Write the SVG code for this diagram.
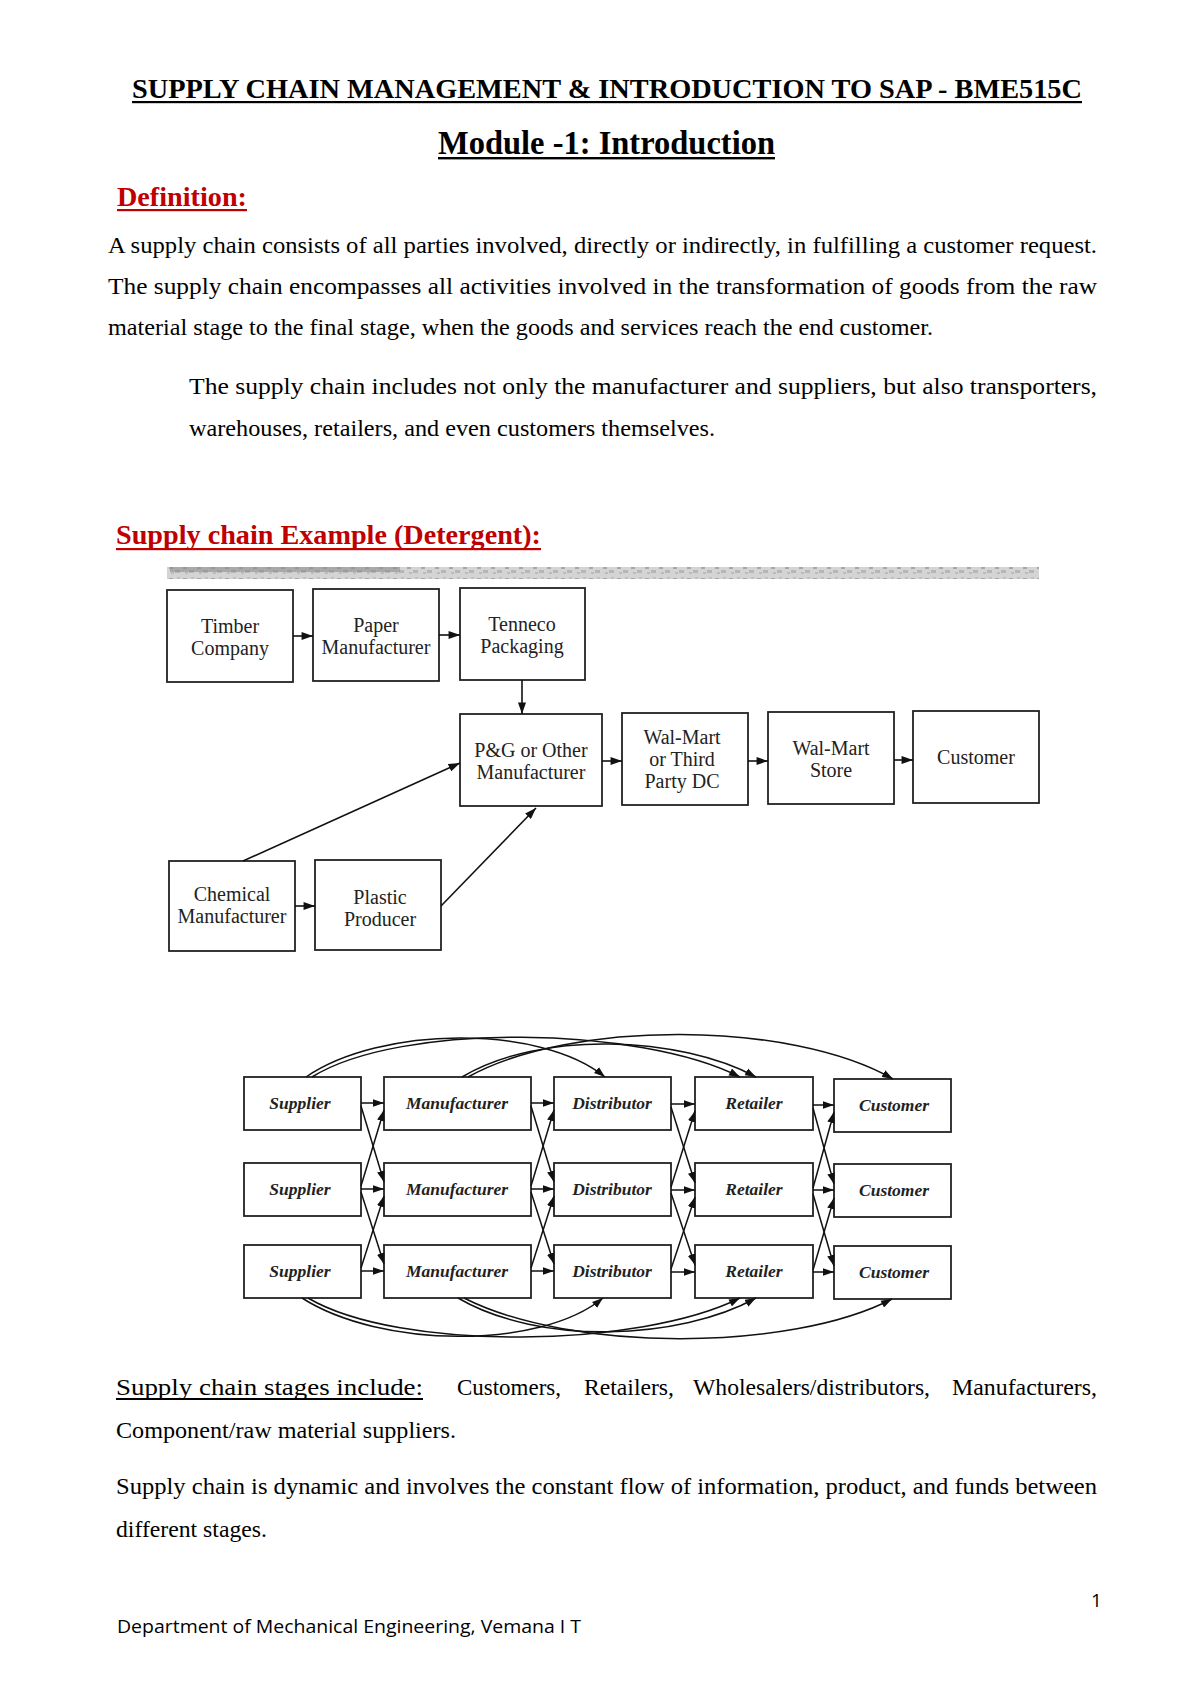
<svg xmlns="http://www.w3.org/2000/svg" width="1200" height="1696" viewBox="0 0 1200 1696">
<defs>
<marker id="ah" viewBox="0 0 10 7" refX="10" refY="3.5" markerWidth="12" markerHeight="8" markerUnits="userSpaceOnUse" orient="auto">
<path d="M0,0 L10,3.5 L0,7 z" fill="#111"/>
</marker>
<marker id="ah2" viewBox="0 0 10 7" refX="10" refY="3.5" markerWidth="11" markerHeight="8" markerUnits="userSpaceOnUse" orient="auto">
<path d="M0,0 L10,3.5 L0,7 z" fill="#111"/>
</marker>
<pattern id="noise" width="14" height="12" patternUnits="userSpaceOnUse">
<rect width="14" height="12" fill="#d4d4d4"/>
<rect x="1" y="2" width="4" height="3" fill="#a8a8a8"/>
<rect x="7" y="6" width="5" height="3" fill="#b6b6b6"/>
<rect x="9" y="1" width="3" height="2" fill="#c0c0c0"/>
<rect x="3" y="8" width="3" height="2" fill="#bcbcbc"/>
</pattern>
</defs>
<style>
.h{font-family:"Liberation Serif","Times New Roman",serif;font-weight:bold;fill:#000;}
.red{fill:#c00000;}
.body{font-family:"Liberation Serif","Times New Roman",serif;font-size:24px;fill:#000;}
.box{fill:#fff;stroke:#222;stroke-width:1.8;}
.lbl{font-family:"Liberation Serif","Times New Roman",serif;font-size:20px;fill:#222;text-anchor:middle;}
.lbl2{font-family:"Liberation Serif","Times New Roman",serif;font-size:17.5px;font-weight:bold;font-style:italic;fill:#222;text-anchor:middle;}
.con{fill:none;stroke:#111;stroke-width:1.6;marker-end:url(#ah);}
.con2{fill:none;stroke:#111;stroke-width:1.5;marker-end:url(#ah2);}
.foot{font-family:"Open Sans","Liberation Sans",sans-serif;font-size:19px;fill:#000;}
</style>
<rect width="1200" height="1696" fill="#fff"/>

<!-- Headings -->
<text class="h" x="132" y="98" font-size="27" textLength="950" lengthAdjust="spacingAndGlyphs">SUPPLY CHAIN MANAGEMENT &amp; INTRODUCTION TO SAP - BME515C</text>
<rect x="132" y="101" width="950" height="2.2" fill="#000"/>
<text class="h" x="438" y="154" font-size="33" textLength="337" lengthAdjust="spacingAndGlyphs">Module -1: Introduction</text>
<rect x="438" y="157" width="337" height="2.4" fill="#000"/>
<text class="h red" x="117" y="206" font-size="27" textLength="130" lengthAdjust="spacingAndGlyphs">Definition:</text>
<rect x="117" y="209" width="130" height="2.2" fill="#c00000"/>

<!-- Definition paragraph -->
<text class="body" x="108" y="253" textLength="989" lengthAdjust="spacingAndGlyphs">A supply chain consists of all parties involved, directly or indirectly, in fulfilling a customer request.</text>
<text class="body" x="108" y="294" textLength="989" lengthAdjust="spacingAndGlyphs">The supply chain encompasses all activities involved in the transformation of goods from the raw</text>
<text class="body" x="108" y="335" textLength="825" lengthAdjust="spacingAndGlyphs">material stage to the final stage, when the goods and services reach the end customer.</text>
<text class="body" x="189" y="394" textLength="908" lengthAdjust="spacingAndGlyphs">The supply chain includes not only the manufacturer and suppliers, but also transporters,</text>
<text class="body" x="189" y="436" textLength="526" lengthAdjust="spacingAndGlyphs">warehouses, retailers, and even customers themselves.</text>

<text class="h red" x="116" y="544" font-size="27" textLength="425" lengthAdjust="spacingAndGlyphs">Supply chain Example (Detergent):</text>
<rect x="116" y="548" width="425" height="2.2" fill="#c00000"/>

<!-- scanned caption remnant -->
<rect x="167" y="567" width="872" height="12" fill="url(#noise)"/>
<rect x="170" y="567" width="230" height="5" fill="#8c8c8c" opacity="0.6"/>

<!-- Figure 1 nodes -->
<g id="timber"><rect class="box" x="167" y="590" width="126" height="92"/><text class="lbl" x="230" y="633">Timber</text><text class="lbl" x="230" y="655">Company</text></g>
<g id="paper"><rect class="box" x="313" y="589" width="126" height="92"/><text class="lbl" x="376" y="632">Paper</text><text class="lbl" x="376" y="654">Manufacturer</text></g>
<g id="tenneco"><rect class="box" x="460" y="588" width="125" height="92"/><text class="lbl" x="522" y="631">Tenneco</text><text class="lbl" x="522" y="653">Packaging</text></g>
<g id="pg"><rect class="box" x="460" y="714" width="142" height="92"/><text class="lbl" x="531" y="757">P&amp;G or Other</text><text class="lbl" x="531" y="779">Manufacturer</text></g>
<g id="dc"><rect class="box" x="622" y="713" width="126" height="92"/><text class="lbl" x="682" y="744">Wal-Mart</text><text class="lbl" x="682" y="766">or Third</text><text class="lbl" x="682" y="788">Party DC</text></g>
<g id="store"><rect class="box" x="768" y="712" width="126" height="92"/><text class="lbl" x="831" y="755">Wal-Mart</text><text class="lbl" x="831" y="777">Store</text></g>
<g id="customer"><rect class="box" x="913" y="711" width="126" height="92"/><text class="lbl" x="976" y="764">Customer</text></g>
<g id="chemical"><rect class="box" x="169" y="861" width="126" height="90"/><text class="lbl" x="232" y="901">Chemical</text><text class="lbl" x="232" y="923">Manufacturer</text></g>
<g id="plastic"><rect class="box" x="315" y="860" width="126" height="90"/><text class="lbl" x="380" y="904">Plastic</text><text class="lbl" x="380" y="926">Producer</text></g>

<!-- Figure 1 connectors -->
<g id="fig1-connectors">
<line class="con" x1="293" y1="636" x2="313" y2="636"/>
<line class="con" x1="439" y1="635" x2="460" y2="635"/>
<line class="con" x1="522" y1="680" x2="522" y2="714"/>
<line class="con" x1="602" y1="761" x2="622" y2="761"/>
<line class="con" x1="748" y1="761" x2="768" y2="761"/>
<line class="con" x1="894" y1="760" x2="913" y2="760"/>
<line class="con" x1="295" y1="906" x2="315" y2="906"/>
<line class="con" x1="243" y1="861" x2="460" y2="763"/>
<line class="con" x1="441" y1="906" x2="536" y2="808"/>
</g>

<!-- Figure 2 nodes -->
<g id="sup1"><rect class="box" x="244" y="1077" width="117" height="53"/><text class="lbl2" x="300" y="1109">Supplier</text></g>
<g id="sup2"><rect class="box" x="244" y="1163" width="117" height="53"/><text class="lbl2" x="300" y="1195">Supplier</text></g>
<g id="sup3"><rect class="box" x="244" y="1245" width="117" height="53"/><text class="lbl2" x="300" y="1277">Supplier</text></g>
<g id="man1"><rect class="box" x="384" y="1077" width="147" height="53"/><text class="lbl2" x="457" y="1109">Manufacturer</text></g>
<g id="man2"><rect class="box" x="384" y="1163" width="147" height="53"/><text class="lbl2" x="457" y="1195">Manufacturer</text></g>
<g id="man3"><rect class="box" x="384" y="1245" width="147" height="53"/><text class="lbl2" x="457" y="1277">Manufacturer</text></g>
<g id="dis1"><rect class="box" x="554" y="1077" width="117" height="53"/><text class="lbl2" x="612" y="1109">Distributor</text></g>
<g id="dis2"><rect class="box" x="554" y="1163" width="117" height="53"/><text class="lbl2" x="612" y="1195">Distributor</text></g>
<g id="dis3"><rect class="box" x="554" y="1245" width="117" height="53"/><text class="lbl2" x="612" y="1277">Distributor</text></g>
<g id="ret1"><rect class="box" x="695" y="1077" width="118" height="53"/><text class="lbl2" x="754" y="1109">Retailer</text></g>
<g id="ret2"><rect class="box" x="695" y="1163" width="118" height="53"/><text class="lbl2" x="754" y="1195">Retailer</text></g>
<g id="ret3"><rect class="box" x="695" y="1245" width="118" height="53"/><text class="lbl2" x="754" y="1277">Retailer</text></g>
<g id="cus1"><rect class="box" x="834" y="1079" width="117" height="53"/><text class="lbl2" x="894" y="1111">Customer</text></g>
<g id="cus2"><rect class="box" x="834" y="1164" width="117" height="53"/><text class="lbl2" x="894" y="1196">Customer</text></g>
<g id="cus3"><rect class="box" x="834" y="1246" width="117" height="53"/><text class="lbl2" x="894" y="1278">Customer</text></g>

<!-- Figure 2 connectors -->
<g id="fig2-connectors">
<line class="con2" x1="361" y1="1103" x2="384" y2="1103"/>
<line class="con2" x1="361" y1="1189" x2="384" y2="1189"/>
<line class="con2" x1="361" y1="1271" x2="384" y2="1271"/>
<line class="con2" x1="361" y1="1106" x2="384" y2="1182"/>
<line class="con2" x1="361" y1="1186" x2="384" y2="1110"/>
<line class="con2" x1="361" y1="1192" x2="384" y2="1264"/>
<line class="con2" x1="361" y1="1268" x2="384" y2="1196"/>
<line class="con2" x1="531" y1="1103" x2="554" y2="1103"/>
<line class="con2" x1="531" y1="1189" x2="554" y2="1189"/>
<line class="con2" x1="531" y1="1271" x2="554" y2="1271"/>
<line class="con2" x1="531" y1="1106" x2="554" y2="1182"/>
<line class="con2" x1="531" y1="1186" x2="554" y2="1110"/>
<line class="con2" x1="531" y1="1192" x2="554" y2="1264"/>
<line class="con2" x1="531" y1="1268" x2="554" y2="1196"/>
<line class="con2" x1="671" y1="1104" x2="695" y2="1104"/>
<line class="con2" x1="671" y1="1190" x2="695" y2="1190"/>
<line class="con2" x1="671" y1="1272" x2="695" y2="1272"/>
<line class="con2" x1="671" y1="1107" x2="695" y2="1183"/>
<line class="con2" x1="671" y1="1187" x2="695" y2="1111"/>
<line class="con2" x1="671" y1="1193" x2="695" y2="1265"/>
<line class="con2" x1="671" y1="1269" x2="695" y2="1197"/>
<line class="con2" x1="813" y1="1105" x2="834" y2="1105"/>
<line class="con2" x1="813" y1="1190" x2="834" y2="1190"/>
<line class="con2" x1="813" y1="1272" x2="834" y2="1272"/>
<line class="con2" x1="813" y1="1108" x2="834" y2="1184"/>
<line class="con2" x1="813" y1="1188" x2="834" y2="1112"/>
<line class="con2" x1="813" y1="1194" x2="834" y2="1266"/>
<line class="con2" x1="813" y1="1270" x2="834" y2="1198"/>
<path class="con2" d="M306,1077 C380,1026 540,1024 605,1077"/>
<path class="con2" d="M312,1077 C400,1022 640,1026 740,1077"/>
<path class="con2" d="M462,1077 C540,1030 680,1036 756,1077"/>
<path class="con2" d="M468,1077 C570,1020 790,1020 893,1079"/>
<path class="con2" d="M302,1298 C380,1348 540,1350 603,1298"/>
<path class="con2" d="M308,1298 C400,1352 640,1348 740,1298"/>
<path class="con2" d="M458,1298 C540,1346 680,1340 756,1298"/>
<path class="con2" d="M464,1298 C570,1352 790,1352 892,1299"/>
</g>

<!-- Bottom text -->
<text class="body" x="116" y="1395" textLength="307" lengthAdjust="spacingAndGlyphs">Supply   chain   stages   include:</text>
<rect x="116" y="1398" width="307" height="2" fill="#000"/>
<text class="body" x="457" y="1395" textLength="104" lengthAdjust="spacingAndGlyphs">Customers,</text>
<text class="body" x="584" y="1395" textLength="90" lengthAdjust="spacingAndGlyphs">Retailers,</text>
<text class="body" x="693" y="1395" textLength="237" lengthAdjust="spacingAndGlyphs">Wholesalers/distributors,</text>
<text class="body" x="952" y="1395" textLength="145" lengthAdjust="spacingAndGlyphs">Manufacturers,</text>
<text class="body" x="116" y="1438" textLength="340" lengthAdjust="spacingAndGlyphs">Component/raw material suppliers.</text>
<text class="body" x="116" y="1494" textLength="981" lengthAdjust="spacingAndGlyphs">Supply chain is dynamic and involves the constant flow of information, product, and funds between</text>
<text class="body" x="116" y="1537" textLength="151" lengthAdjust="spacingAndGlyphs">different stages.</text>

<text class="foot" x="1091" y="1607">1</text>
<text class="foot" x="117" y="1633" textLength="464" lengthAdjust="spacingAndGlyphs">Department of Mechanical Engineering, Vemana I T</text>
</svg>
